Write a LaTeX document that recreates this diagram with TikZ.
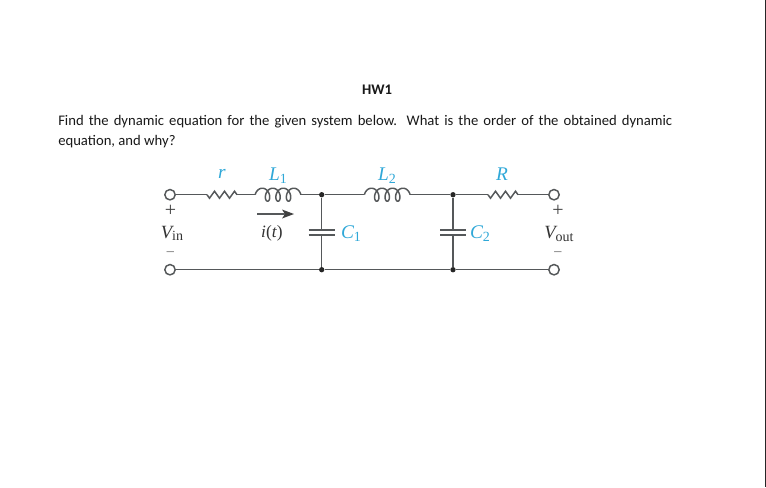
\documentclass[tikz,border=0pt]{standalone}
\usepackage{fontspec}
\setmainfont{Carlito}
\newfontfamily\lblfont{Liberation Serif}
\definecolor{wire}{HTML}{55585A}
\definecolor{lblblue}{HTML}{2FA8D8}
\newcommand{\coilpath}[1]{\draw[wire line,shift={(#1)}] plot[smooth,samples=120,domain=-90:1170] ({1.67*\x*pi/180+4.5*sin(\x)},{-6.5*cos(\x)});}
\newcommand{\zigpath}[1]{\draw[wire line,line join=miter] (#1) -- ++(2.5,3.5) -- ++(5,-7) -- ++(5,7) -- ++(5,-7) -- ++(5,7) -- ++(5,-7) -- ++(2.5,3.5);}
\newcommand{\sbs}[1]{\raisebox{-0.32ex}{\upshape\fontsize{10.5}{10.5}\selectfont #1}}
\tikzset{
  wire line/.style={draw=wire,line width=1.1pt},
  term/.style={circle,draw=wire,line width=1.1pt,fill=white,minimum size=7.8pt,inner sep=0pt},
  junction/.style={circle,fill=black!85,minimum size=4pt,inner sep=0pt},
  elem/.style={text=lblblue,font=\lblfont\itshape\fontsize{14.5}{14.5}\selectfont,inner sep=0pt},
  blk/.style={text=black!80,font=\lblfont\fontsize{13}{13}\selectfont,inner sep=0pt},
  sign/.style={text=black!75,font=\lblfont\fontsize{15}{15}\selectfont,inner sep=0pt},
  minussign/.style={text=black!55,font=\lblfont\fontsize{12}{12}\selectfont,inner sep=0pt}
}
\begin{document}
\begin{tikzpicture}[x=0.75pt,y=-0.75pt]
\useasboundingbox (0,0) rectangle (766,487);
\fill[white] (0,0) rectangle (766,487);
\draw[black!85,line width=0.8pt] (765.4,0) -- (765.4,487);
\node[font=\bfseries\fontsize{11}{13}\selectfont,text=black!90] (title) at (377,90) {HW1};
\node[anchor=north west,inner sep=0pt,text width=470pt,align=left,font=\fontsize{11}{15}\selectfont,text=black!90] (body) at (58,115)
 {\spaceskip=0pt \xspaceskip=0pt \hbox to 460.5pt{Find the dynamic equation for the given system below. What is the order of the obtained dynamic}\\ equation, and why?};
% anchors
\coordinate (ra) at (207,194.7); \coordinate (rb) at (237,194.7);
\coordinate (la) at (255.2,194.7); \coordinate (lb) at (300.9,194.7);
\coordinate (lc) at (364.4,194.7); \coordinate (ld) at (410.1,194.7);
\coordinate (Ra) at (488,194.7); \coordinate (Rb) at (518,194.7);
\node[term] (t1) at (170,194.7) {};
\node[term] (t2) at (170,269.7) {};
\node[term] (t3) at (554,194.7) {};
\node[term] (t4) at (554,269.7) {};
\node[junction] (j1) at (321.7,194.7) {};
\node[junction] (j2) at (453,194.7) {};
\node[junction] (j3) at (321.7,269.7) {};
\node[junction] (j4) at (453,269.7) {};
% wires
\draw[wire line] (t1) -- (ra);
\zigpath{ra}
\draw[wire line] (rb) -- (la);
\coilpath{262.3,194.7}
\draw[wire line] (lb) -- (j1) -- (lc);
\coilpath{371.5,194.7}
\draw[wire line] (ld) -- (j2) -- (Ra);
\zigpath{Ra}
\draw[wire line] (Rb) -- (t3);
\draw[wire line] (t2) -- (j3) -- (j4) -- (t4);
% capacitors
\coordinate (p1a) at (321.7,230); \coordinate (p1b) at (321.7,235.2);
\coordinate (p2a) at (453,230); \coordinate (p2b) at (453,235.2);
\draw[wire line] (j1) -- (p1a) (p1b) -- (j3) (j2) -- (p2a) (p2b) -- (j4);
\draw[wire line] (308.5,230) -- (335,230) (308.5,235.2) -- (335,235.2);
\draw[wire line] (440,230) -- (466,230) (440,235.2) -- (466,235.2);
% current arrow
\coordinate (ia) at (257,214); \coordinate (ib) at (294,214);
\fill[black!75] (ib) -- (282,209.5) -- (285,214) -- (282,218.5) -- cycle;
\draw[wire line] (ia) -- (285,214);
% labels
\node[elem] (lr) at (222,174) {r};
\node[elem] (lL1) at (278,176) {L\sbs{1}};
\node[elem] (lL2) at (387,176) {L\sbs{2}};
\node[elem] (lR) at (502,174) {R};
\node[elem] (lC1) at (351,234) {C\sbs{1}};
\node[elem] (lC2) at (480,234) {C\sbs{2}};
\node[blk] (li) at (272,233) {\textit{i}(\textit{t})};
\node[sign] (p1) at (170.5,211) {+};
\node[minussign] (m1) at (170.5,255) {\textminus};
\node[sign] (p2) at (558,211) {+};
\node[minussign] (m2) at (558,255) {\textminus};
\node[blk] (vin) at (172,233.5) {\fontsize{14}{14}\selectfont\textit{V}\kern-1.5pt\sbs{in}};
\node[blk] (vout) at (559,234) {\fontsize{14}{14}\selectfont\textit{V}\kern-1.5pt\sbs{out}};
\end{tikzpicture}
\end{document}
